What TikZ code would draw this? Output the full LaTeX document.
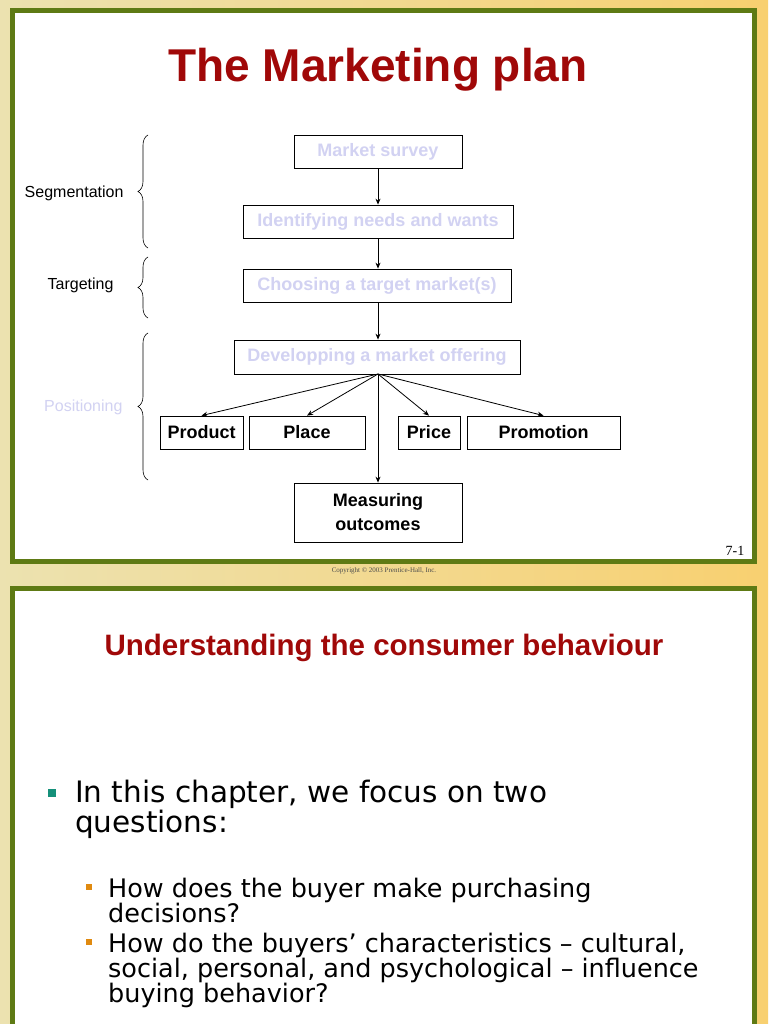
\documentclass[tikz,border=0pt]{standalone}
\usepackage{fontspec}
\setmainfont{Liberation Sans}
\newfontfamily\verd{DejaVu Sans}
\newfontfamily\tms{Liberation Serif}
\usetikzlibrary{decorations.pathreplacing,arrows.meta}
\definecolor{bgl}{HTML}{ECE2B0}
\definecolor{bgr}{HTML}{F8D070}
\definecolor{frame}{HTML}{5E7A14}
\definecolor{dred}{HTML}{A00808}
\definecolor{lav}{HTML}{D2D2F2}
\definecolor{teal}{HTML}{15907A}
\definecolor{orng}{HTML}{E08A10}
\tikzset{
  box/.style={draw=black,fill=white,line width=0.8pt,inner sep=0pt,font=\bfseries\fontsize{18}{20}\selectfont},
  lbox/.style={box,text=lav},
  arr/.style={-{Stealth[length=6pt,width=5pt]},line width=0.8pt},
  brace/.style={decorate,decoration={brace,amplitude=10pt,mirror},line width=0.6pt},
  side/.style={anchor=east,font=\fontsize{16}{18}\selectfont}
}
\begin{document}
\begin{tikzpicture}[x=1pt,y=-1pt]
\useasboundingbox (0,0) rectangle (768,1024);
\shade[left color=bgl,right color=bgr] (0,0) rectangle (768,1024);
% slide 1
\draw[frame,line width=5pt,fill=white] (12.5,10.5) rectangle (754.5,561.5);
\node[text=dred,font=\bfseries\fontsize{46}{50}\selectfont] (t1) at (378,70) {The Marketing plan};
\node[lbox,minimum width=168,minimum height=33] (ms) at (378,151.5) {Market survey};
\node[lbox,minimum width=270,minimum height=33] (id) at (378,221.5) {Identifying needs and wants};
\node[lbox,minimum width=268,minimum height=33] (ch) at (377,285.5) {Choosing a target market(s)};
\node[lbox,minimum width=286,minimum height=34] (dv) at (377,357) {Developping a market offering};
\node[box,minimum width=83,minimum height=33] (pr) at (201.5,432.5) {Product};
\node[box,minimum width=116,minimum height=33] (pl) at (307,432.5) {Place};
\node[box,minimum width=62,minimum height=33] (pc) at (429,432.5) {Price};
\node[box,minimum width=153,minimum height=33] (pm) at (543.5,432.5) {Promotion};
\node[box,minimum width=168,minimum height=59,align=center,font=\bfseries\fontsize{18}{24}\selectfont] (mo) at (378,512.5) {Measuring\\outcomes};
\coordinate (o) at (378,374);
\draw[arr] (ms.south) -- (id.north);
\draw[arr] (id.south -| ms.south) -- (ch.north -| ms.south);
\draw[arr] (ch.south -| ms.south) -- (dv.north -| ms.south);
\draw[arr] (o) -- (pr.north);
\draw[arr] (o) -- (pl.north);
\draw[arr] (o) -- (mo.north);
\draw[arr] (o) -- (pc.north);
\draw[arr] (o) -- (pm.north);
\draw[brace] (148,135) -- (148,248);
\draw[brace] (148,257) -- (148,318);
\draw[brace] (148,333) -- (148,480);
\node[side] (ls) at (127,193) {Segmentation};
\node[side] (lt) at (117,285) {Targeting};
\node[side,text=lav] (lp) at (126,407) {Positioning};
\node[font=\tms\fontsize{14}{16}\selectfont] (pg) at (735,551) {7-1};
\node[font=\tms\fontsize{7}{8}\selectfont,text=black!70] (cp) at (384,571) {Copyright \textcopyright\ 2003 Prentice-Hall, Inc.};
% slide 2
\draw[frame,line width=5pt,fill=white] (12.5,588.5) rectangle (754.5,1040);
\node[text=dred,font=\bfseries\fontsize{29.5}{32}\selectfont] (t2) at (384,648) {Understanding the consumer behaviour};
\fill[teal] (48,789) rectangle (56,797);
\node[anchor=north west,inner sep=0pt,align=left,font=\verd\fontsize{29.5}{30}\selectfont] (b1) at (75,780) {In this chapter, we focus on two\\questions:};
\fill[orng] (86,884) rectangle (92,890);
\node[anchor=north west,inner sep=0pt,align=left,font=\verd\fontsize{25.5}{25}\selectfont] (b2) at (108,878) {How does the buyer make purchasing\\decisions?};
\fill[orng] (86,939) rectangle (92,945);
\node[anchor=north west,inner sep=0pt,align=left,font=\verd\fontsize{25.5}{25}\selectfont] (b3) at (108,933) {How do the buyers’ characteristics – cultural,\\social, personal, and psychological – influence\\buying behavior?};
\end{tikzpicture}
\end{document}
